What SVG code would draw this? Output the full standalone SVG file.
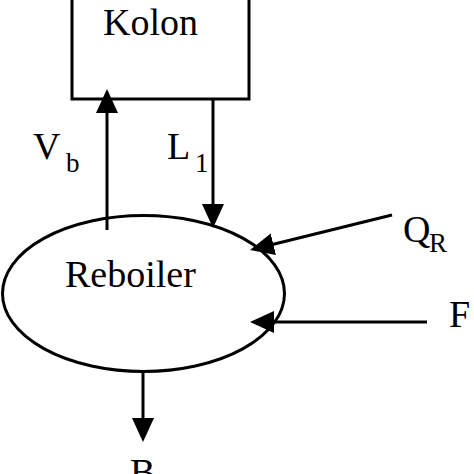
<svg xmlns="http://www.w3.org/2000/svg" width="474" height="474" viewBox="0 0 474 474">
<style>
.shape{fill:#fff;stroke:#000;stroke-width:3}
.conn{fill:none;stroke:#000;stroke-width:3}
.t{font-family:"Liberation Serif","Times New Roman",serif;font-size:38px;fill:#000}
.s{font-family:"Liberation Serif","Times New Roman",serif;font-size:27px;fill:#000}
</style>
<defs>
<marker id="ah" markerUnits="userSpaceOnUse" markerWidth="26" markerHeight="24" refX="2" refY="11" orient="auto" viewBox="0 0 26 24">
<path d="M0,0 L24,11 L0,22 z" fill="#000"/>
</marker>
</defs>
<rect width="474" height="474" fill="#fff"/>
<g id="kolon">
<rect class="shape" x="72" y="-10" width="177" height="109"/>
<text class="t" x="103" y="35">Kolon</text>
</g>
<g id="reboiler">
<ellipse class="shape" cx="143.5" cy="293.5" rx="141" ry="78"/>
<text class="t" x="65" y="287">Reboiler</text>
</g>
<g id="connectors">
<line class="conn" x1="107" y1="230" x2="107" y2="111" marker-end="url(#ah)"/>
<line class="conn" x1="213" y1="99" x2="213" y2="206" marker-end="url(#ah)"/>
<line class="conn" x1="392" y1="215" x2="271.4" y2="244.7" marker-end="url(#ah)"/>
<line class="conn" x1="427" y1="322" x2="272" y2="322" marker-end="url(#ah)"/>
<line class="conn" x1="143" y1="372" x2="143" y2="420" marker-end="url(#ah)"/>
</g>
<g id="labels">
<text class="t" x="33" y="159">V</text><text class="s" x="66" y="172">b</text>
<text class="t" x="167" y="159">L</text><text class="s" x="195" y="172">1</text>
<text class="t" x="403" y="242">Q</text><text class="s" x="429" y="252">R</text>
<text class="t" x="449" y="327">F</text>
<text class="t" x="130" y="485">B</text>
</g>
</svg>
